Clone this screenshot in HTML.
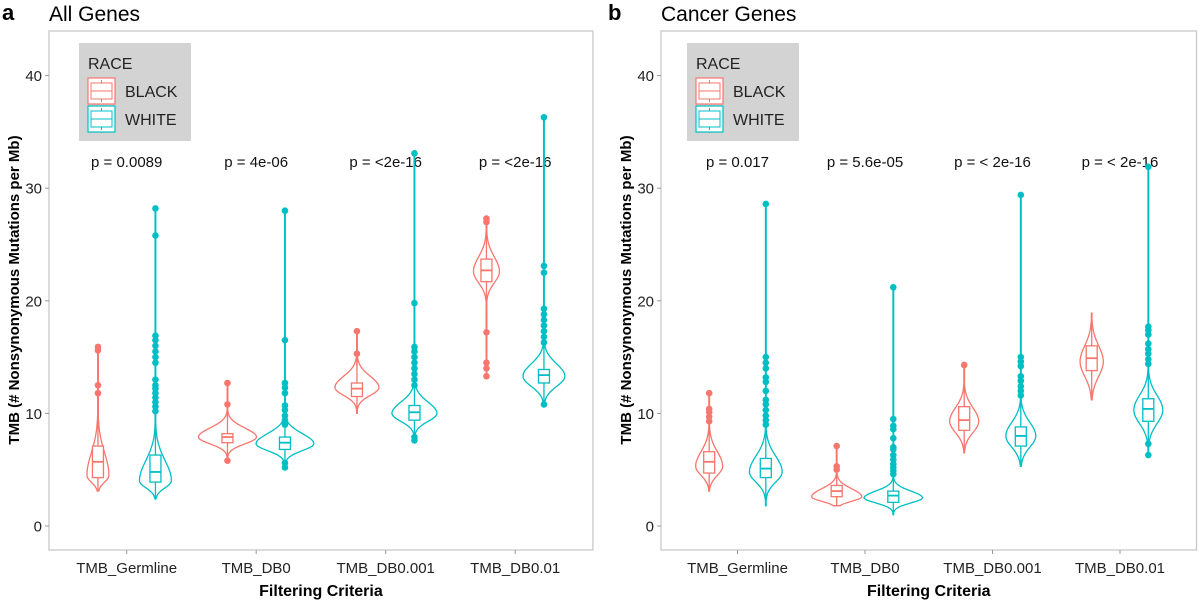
<!DOCTYPE html>
<html><head><meta charset="utf-8"><style>
html,body{margin:0;padding:0;background:#fff;}
svg{display:block;font-family:"Liberation Sans",Arial,sans-serif;}
</style></head><body>
<svg id="chart" width="1200" height="601" viewBox="0 0 1200 601" xmlns="http://www.w3.org/2000/svg"></svg>
<script>
// ---- data ----
const categories = ["TMB_Germline","TMB_DB0","TMB_DB0.001","TMB_DB0.01"];
const groups = ["BLACK","WHITE"];
const yTicks = [0,10,20,30,40];
const pValuesA = ["p = 0.0089","p = 4e-06","p = <2e-16","p = <2e-16"];
const pValuesB = ["p = 0.017","p = 5.6e-05","p = < 2e-16","p = < 2e-16"];
// per violin (order: cat0 BLACK, cat0 WHITE, cat1 BLACK ...)
const aMin =   [3.1, 2.4, 5.8, 5.2, 10.0, 7.6, 13.3, 10.8];
const aMax =   [15.9, 28.2, 12.7, 28.0, 17.3, 33.1, 27.3, 36.3];
const aMode =  [4.5, 4.0, 7.9, 7.3, 12.3, 10.0, 22.6, 13.3];
const aWidth = [11, 16, 29, 29, 22, 22.6, 13, 21];
const aSigLo = [0.6, 0.6, 0.6, 0.6, 0.7, 0.7, 1.0, 0.9];
const aSigHi = [2.0, 1.8, 0.8, 0.9, 1.0, 1.0, 1.3, 1.1];
const aQ1 =    [4.3, 3.9, 7.4, 6.8, 11.5, 9.4, 21.7, 12.7];
const aMed =   [5.7, 4.8, 7.9, 7.4, 12.2, 10.1, 22.7, 13.4];
const aQ3 =    [7.1, 6.3, 8.2, 7.9, 12.7, 10.7, 23.7, 13.9];
const aWLo =   [3.1, 2.4, 6.2, 5.9, 10.0, 8.2, 19.2, 11.2];
const aWHi =   [10.0, 10.0, 9.6, 9.0, 14.2, 12.2, 26.5, 15.7];
const aOut = [
  [11.8,12.5,15.6,15.9],
  [10.2,10.6,11,11.4,11.8,12.2,12.5,13,14.5,15,15.5,16,16.5,16.9,25.8,28.2],
  [5.8,10.8,12.7],
  [5.2,5.6,9.0,9.4,9.8,10.3,10.7,11.8,12.3,12.7,16.5,28.0],
  [15.3,17.3],
  [7.6,7.9,12.5,13,13.5,14,14.5,15,15.5,15.9,19.8,33.1],
  [13.3,14.0,14.5,17.2,27.0,27.3],
  [10.8,16.3,16.8,17.3,17.8,18.3,18.8,19.3,22.5,23.1,36.3]
];
const bMin =   [3.1, 1.8, 1.8, 1.0, 6.5, 5.3, 11.2, 6.3];
const bMax =   [11.8, 28.6, 7.1, 21.3, 14.3, 29.5, 18.9, 31.8];
const bMode =  [5.3, 4.8, 2.6, 2.5, 9.3, 8.0, 14.6, 10.3];
const bWidth = [13.5, 16.4, 25, 29.4, 14.5, 15, 11.6, 14.5];
const bSigLo = [0.8, 0.9, 0.4, 0.45, 1.0, 1.0, 1.3, 1.2];
const bSigHi = [1.3, 1.4, 0.7, 0.6, 1.2, 1.2, 1.4, 1.3];
const bQ1 =    [4.7, 4.3, 2.6, 2.1, 8.5, 7.1, 13.8, 9.3];
const bMed =   [5.7, 5.1, 3.1, 2.7, 9.4, 8.0, 14.9, 10.4];
const bQ3 =    [6.6, 6.0, 3.6, 3.1, 10.6, 8.8, 16.0, 11.3];
const bWLo =   [3.1, 2.0, 1.8, 1.2, 6.6, 5.4, 11.2, 7.6];
const bWHi =   [9.0, 8.7, 4.9, 4.3, 12.8, 11.2, 18.9, 13.2];
const bOut = [
  [9.3,9.7,10.1,10.4,11.8],
  [9.0,9.4,9.8,10.3,10.8,11.2,12,12.8,13.2,14.0,14.5,15.0,28.6],
  [5.0,5.3,7.1],
  [4.6,4.9,5.2,5.5,5.9,6.3,6.8,7.0,7.8,8.6,8.9,9.5,21.2],
  [14.3],
  [11.6,12.0,12.4,12.9,13.3,14.2,14.6,15.0,29.4],
  [],
  [6.3,7.3,14.4,14.8,15.3,15.7,16.2,17.0,17.4,17.7,31.9]
];

const COLORS = ["#F8766D","#00BFC4"];
const NS = "http://www.w3.org/2000/svg";
const svg = document.getElementById("chart");
function mk(tag, attrs, parent){
  const e = document.createElementNS(NS, tag);
  for (const k in attrs) e.setAttribute(k, attrs[k]);
  (parent||svg).appendChild(e);
  return e;
}
function txt(str, attrs, parent){ const t = mk("text", attrs, parent); t.textContent = str; return t; }

const Y0 = 526, PXU = 11.26;
function yScale(v){ return Y0 - v*PXU; }

function drawPanel(p){
  const g = mk("g", {});
  
  
  const xScale = i => p.x0 + (0.6 + i) * p.step;
  const right = p.x0 + 4.2*p.step;
  const L = txt(p.letter, {x:p.letterX, y:20, "font-size":22, "font-weight":"bold", fill:"#000"}, g);
  
  
  const T = txt(p.title, {x:p.x0, y:21, "font-size":21, fill:"#000"}, g);
  
  
  const frame = mk("rect", {x:p.x0, y:31, width:right-p.x0, height:519, fill:"#fff", stroke:"#c8c8c8", "stroke-width":1.3}, g);
  
  
  yTicks.forEach(t=>{
    const y = yScale(t);
    const tk = mk("line", {x1:p.x0-4, x2:p.x0, y1:y, y2:y, stroke:"#999", "stroke-width":1}, g);
    
    
    const lb = txt(String(t), {x:p.x0-7, y:y+5.5, "font-size":15, "text-anchor":"end", fill:"#222"}, g);
    
    
  });
  const yt = txt("TMB (# Nonsynonymous Mutations per Mb)", {x:0, y:0, "font-size":15, "font-weight":"bold", "text-anchor":"middle", fill:"#000", transform:`translate(${p.x0-30},290) rotate(-90)`}, g);
  
  
  categories.forEach((c,i)=>{
    const x = xScale(i);
    const tk = mk("line", {x1:x, x2:x, y1:550, y2:554, stroke:"#999", "stroke-width":1}, g);
    
    
    const lb = txt(c, {x:x, y:573, "font-size":15, "text-anchor":"middle", fill:"#222"}, g);
    
    
    const pv = txt(p.pvals[i], {x:x, y:167, "font-size":15, "text-anchor":"middle", fill:"#111"}, g);
    
    
  });
  const xt = txt("Filtering Criteria", {x:(p.x0+right)/2, y:596, "font-size":16, "font-weight":"bold", "text-anchor":"middle", fill:"#000"}, g);
  
  

  const off = p.step*0.222;
  for (let k=0;k<8;k++){
    const ci = Math.floor(k/2), gi = k%2;
    const cx = xScale(ci) + (gi===0?-off:off);
    const col = COLORS[gi];
    const vg = mk("g", {}, g);
    
    
    // violin outline
    const n = 120, lo = p.min[k], hi = p.max[k];
    const rightPts = [], leftPts = [];
    for (let j=0;j<=n;j++){
      const v = lo + (hi-lo)*j/n;
      const s = v < p.mode[k] ? p.sigLo[k] : p.sigHi[k];
      const w = Math.max(0.3, p.width[k]*Math.exp(-0.5*Math.pow((v-p.mode[k])/s,2)));
      rightPts.push([cx+w, yScale(v)]);
      leftPts.push([cx-w, yScale(v)]);
    }
    const pts = rightPts.concat(leftPts.reverse()).map(q=>q[0].toFixed(1)+","+q[1].toFixed(1)).join(" ");
    const vio = mk("polygon", {points:pts, fill:"none", stroke:col, "stroke-width":1.3}, vg);
    
    
    // whiskers
    const w1 = mk("line", {x1:cx, x2:cx, y1:yScale(p.q3[k]), y2:yScale(p.whi[k]), stroke:col, "stroke-width":1.3}, vg);
    
    
    const w2 = mk("line", {x1:cx, x2:cx, y1:yScale(p.q1[k]), y2:yScale(p.wlo[k]), stroke:col, "stroke-width":1.3}, vg);
    
    
    // outliers connecting line along tail
    const outs = p.out[k];
    if (outs.length){
      const omax = Math.max(...outs), omin = Math.min(...outs);
      if (omax > p.whi[k]){
        const tl = mk("line", {x1:cx, x2:cx, y1:yScale(p.whi[k]), y2:yScale(omax), stroke:col, "stroke-width":1.6}, vg);
        
        
      }
      if (omin < p.wlo[k]){
        const tl2 = mk("line", {x1:cx, x2:cx, y1:yScale(p.wlo[k]), y2:yScale(omin), stroke:col, "stroke-width":1.6}, vg);
        
        
      }
    }
    // box
    const bx = mk("rect", {x:cx-5.5, y:yScale(p.q3[k]), width:11, height:(p.q3[k]-p.q1[k])*PXU, fill:"#fff", stroke:col, "stroke-width":1.3}, vg);
    
    
    const md = mk("line", {x1:cx-5.5, x2:cx+5.5, y1:yScale(p.med[k]), y2:yScale(p.med[k]), stroke:col, "stroke-width":1.8}, vg);
    
    
    outs.forEach(v=>{
      const c = mk("circle", {cx:cx, cy:yScale(v), r:3.3, fill:col}, vg);
      
      
    });
  }
  // legend
  const lg = mk("g", {}, g);
  
  
  const lx = p.legendX;
  mk("rect", {x:lx, y:43, width:112, height:98, fill:"#d3d3d3"}, lg);
  const lt = txt("RACE", {x:lx+9, y:69, "font-size":16, fill:"#222"}, lg);
  
  
  groups.forEach((gname,gi)=>{
    const ey = 78 + gi*28;
    const col = COLORS[gi];
    const le = mk("g", {}, lg);
    
    
    mk("rect", {x:lx+9, y:ey, width:27, height:26, fill:"#fff", stroke:col, "stroke-width":1.2}, le);
    mk("rect", {x:lx+12, y:ey+5, width:21, height:16, fill:"none", stroke:col, "stroke-width":1}, le);
    mk("line", {x1:lx+12, x2:lx+33, y1:ey+13, y2:ey+13, stroke:col, "stroke-width":1}, le);
    mk("line", {x1:lx+22.5, x2:lx+22.5, y1:ey+2, y2:ey+5, stroke:col, "stroke-width":1}, le);
    mk("line", {x1:lx+22.5, x2:lx+22.5, y1:ey+21, y2:ey+24, stroke:col, "stroke-width":1}, le);
    txt(gname, {x:lx+46, y:ey+19, "font-size":16, fill:"#222"}, le);
  });
}

drawPanel({id:"all-genes", letter:"a", letterX:2, title:"All Genes", x0:49, step:129.5, legendX:79, pvals:pValuesA,
  min:aMin,max:aMax,mode:aMode,width:aWidth,sigLo:aSigLo,sigHi:aSigHi,q1:aQ1,med:aMed,q3:aQ3,wlo:aWLo,whi:aWHi,out:aOut});
drawPanel({id:"cancer-genes", letter:"b", letterX:608, title:"Cancer Genes", x0:661, step:127.5, legendX:687, pvals:pValuesB,
  min:bMin,max:bMax,mode:bMode,width:bWidth,sigLo:bSigLo,sigHi:bSigHi,q1:bQ1,med:bMed,q3:bQ3,wlo:bWLo,whi:bWHi,out:bOut});
</script>
</body></html>
